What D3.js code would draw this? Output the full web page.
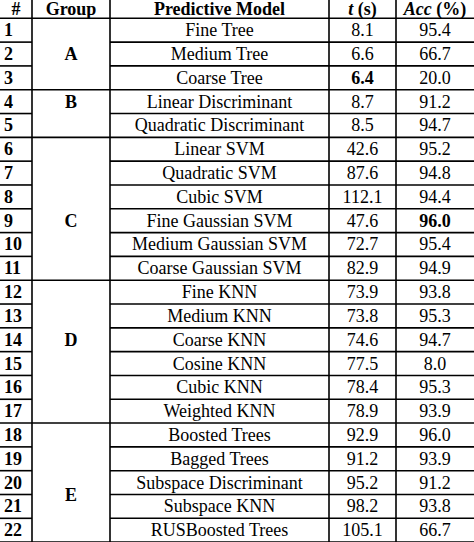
<!DOCTYPE html>
<html><head><meta charset="utf-8">
<script src="https://cdn.jsdelivr.net/npm/d3@7"></script>
<style>body{margin:0;background:#fff}</style>
</head><body>
<div class="table"></div>
<script>
// Table data.
var models = ["Fine Tree", "Medium Tree", "Coarse Tree", "Linear Discriminant", "Quadratic Discriminant",
  "Linear SVM", "Quadratic SVM", "Cubic SVM", "Fine Gaussian SVM", "Medium Gaussian SVM", "Coarse Gaussian SVM",
  "Fine KNN", "Medium KNN", "Coarse KNN", "Cosine KNN", "Cubic KNN", "Weighted KNN",
  "Boosted Trees", "Bagged Trees", "Subspace Discriminant", "Subspace KNN", "RUSBoosted Trees"];
var times = ["8.1", "6.6", "6.4", "8.7", "8.5", "42.6", "87.6", "112.1", "47.6", "72.7", "82.9",
  "73.9", "73.8", "74.6", "77.5", "78.4", "78.9", "92.9", "91.2", "95.2", "98.2", "105.1"];
var accs = ["95.4", "66.7", "20.0", "91.2", "94.7", "95.2", "94.8", "94.4", "96.0", "95.4", "94.9",
  "93.8", "95.3", "94.7", "8.0", "95.3", "93.9", "96.0", "93.9", "91.2", "93.8", "66.7"];
var boldTime = [3];
var boldAcc = [9];
var groups = ["A", "B", "C", "D", "E"];
var groupStart = [1, 4, 6, 12, 18];
var groupLabelRow = [2.5, 4.5, 9.5, 14.5, 21];

var w = 474, h = 542;
var colX = [0, 32, 110, 329, 396, 474];
var rowH = 23.81, tableTop = 18.3;

var svg = d3.select(".table").append("svg").attr("width", w).attr("height", h)
  .style("font-family", "'Liberation Serif', serif").style("font-size", "18px");

var yScale = d3.scaleLinear().domain([0, 22]).range([tableTop, tableTop + 22 * rowH]);

// Header.
var hdr = svg.append("g");
function headerText(i) {
  return hdr.append("text").attr("x", (colX[i] + colX[i + 1]) / 2).attr("y", tableTop - 3)
    .attr("text-anchor", "middle").style("font-weight", "bold");
}
headerText(0).text("#");
headerText(1).text("Group");
headerText(2).text("Predictive Model");
var tH = headerText(3);
tH.append("tspan").style("font-style", "italic").text("t");
tH.append("tspan").text(" (s)");
var aH = headerText(4);
aH.append("tspan").style("font-style", "italic").text("Acc");
aH.append("tspan").text(" (%)");

// Rows.
var rows = svg.selectAll("g.row").data(models).enter().append("g")
  .attr("transform", function(d, i) { return "translate(0," + yScale(i) + ")"; });
rows.append("text").attr("x", 4).attr("y", rowH / 2 + 6)
  .style("font-weight", "bold").text(function(d, i) { return i + 1; });
rows.append("text").attr("x", (colX[2] + colX[3]) / 2).attr("y", rowH / 2 + 6)
  .attr("text-anchor", "middle").text(function(d) { return d; });
rows.append("text").attr("x", (colX[3] + colX[4]) / 2).attr("y", rowH / 2 + 6).attr("text-anchor", "middle")
  .style("font-weight", function(d, i) { return boldTime.indexOf(i + 1) >= 0 ? "bold" : "normal"; })
  .text(function(d, i) { return times[i]; });
rows.append("text").attr("x", (colX[4] + colX[5]) / 2).attr("y", rowH / 2 + 6).attr("text-anchor", "middle")
  .style("font-weight", function(d, i) { return boldAcc.indexOf(i + 1) >= 0 ? "bold" : "normal"; })
  .text(function(d, i) { return accs[i]; });

// Group labels.
svg.selectAll("text.grp").data(groups).enter().append("text")
  .attr("x", (colX[1] + colX[2]) / 2)
  .attr("y", function(d, i) { return yScale(groupLabelRow[i] - 1) + 6; })
  .attr("text-anchor", "middle").style("font-weight", "bold").text(function(d) { return d; });

// Horizontal lines.
var lines = svg.append("g").attr("stroke", "#000").attr("stroke-width", 1.6);
for (var r = 0; r <= 22; r++) {
  var isGroup = r === 0 || r === 22 || groupStart.indexOf(r + 1) >= 0;
  if (isGroup) {
    lines.append("line").attr("x1", 0).attr("x2", w).attr("y1", yScale(r)).attr("y2", yScale(r));
  } else {
    lines.append("line").attr("x1", 0).attr("x2", colX[1]).attr("y1", yScale(r)).attr("y2", yScale(r));
    lines.append("line").attr("x1", colX[2]).attr("x2", w).attr("y1", yScale(r)).attr("y2", yScale(r));
  }
}
// Vertical lines.
colX.slice(1, 5).forEach(function(x) {
  lines.append("line").attr("x1", x).attr("x2", x).attr("y1", 0).attr("y2", h);
});
</script>
</body></html>
